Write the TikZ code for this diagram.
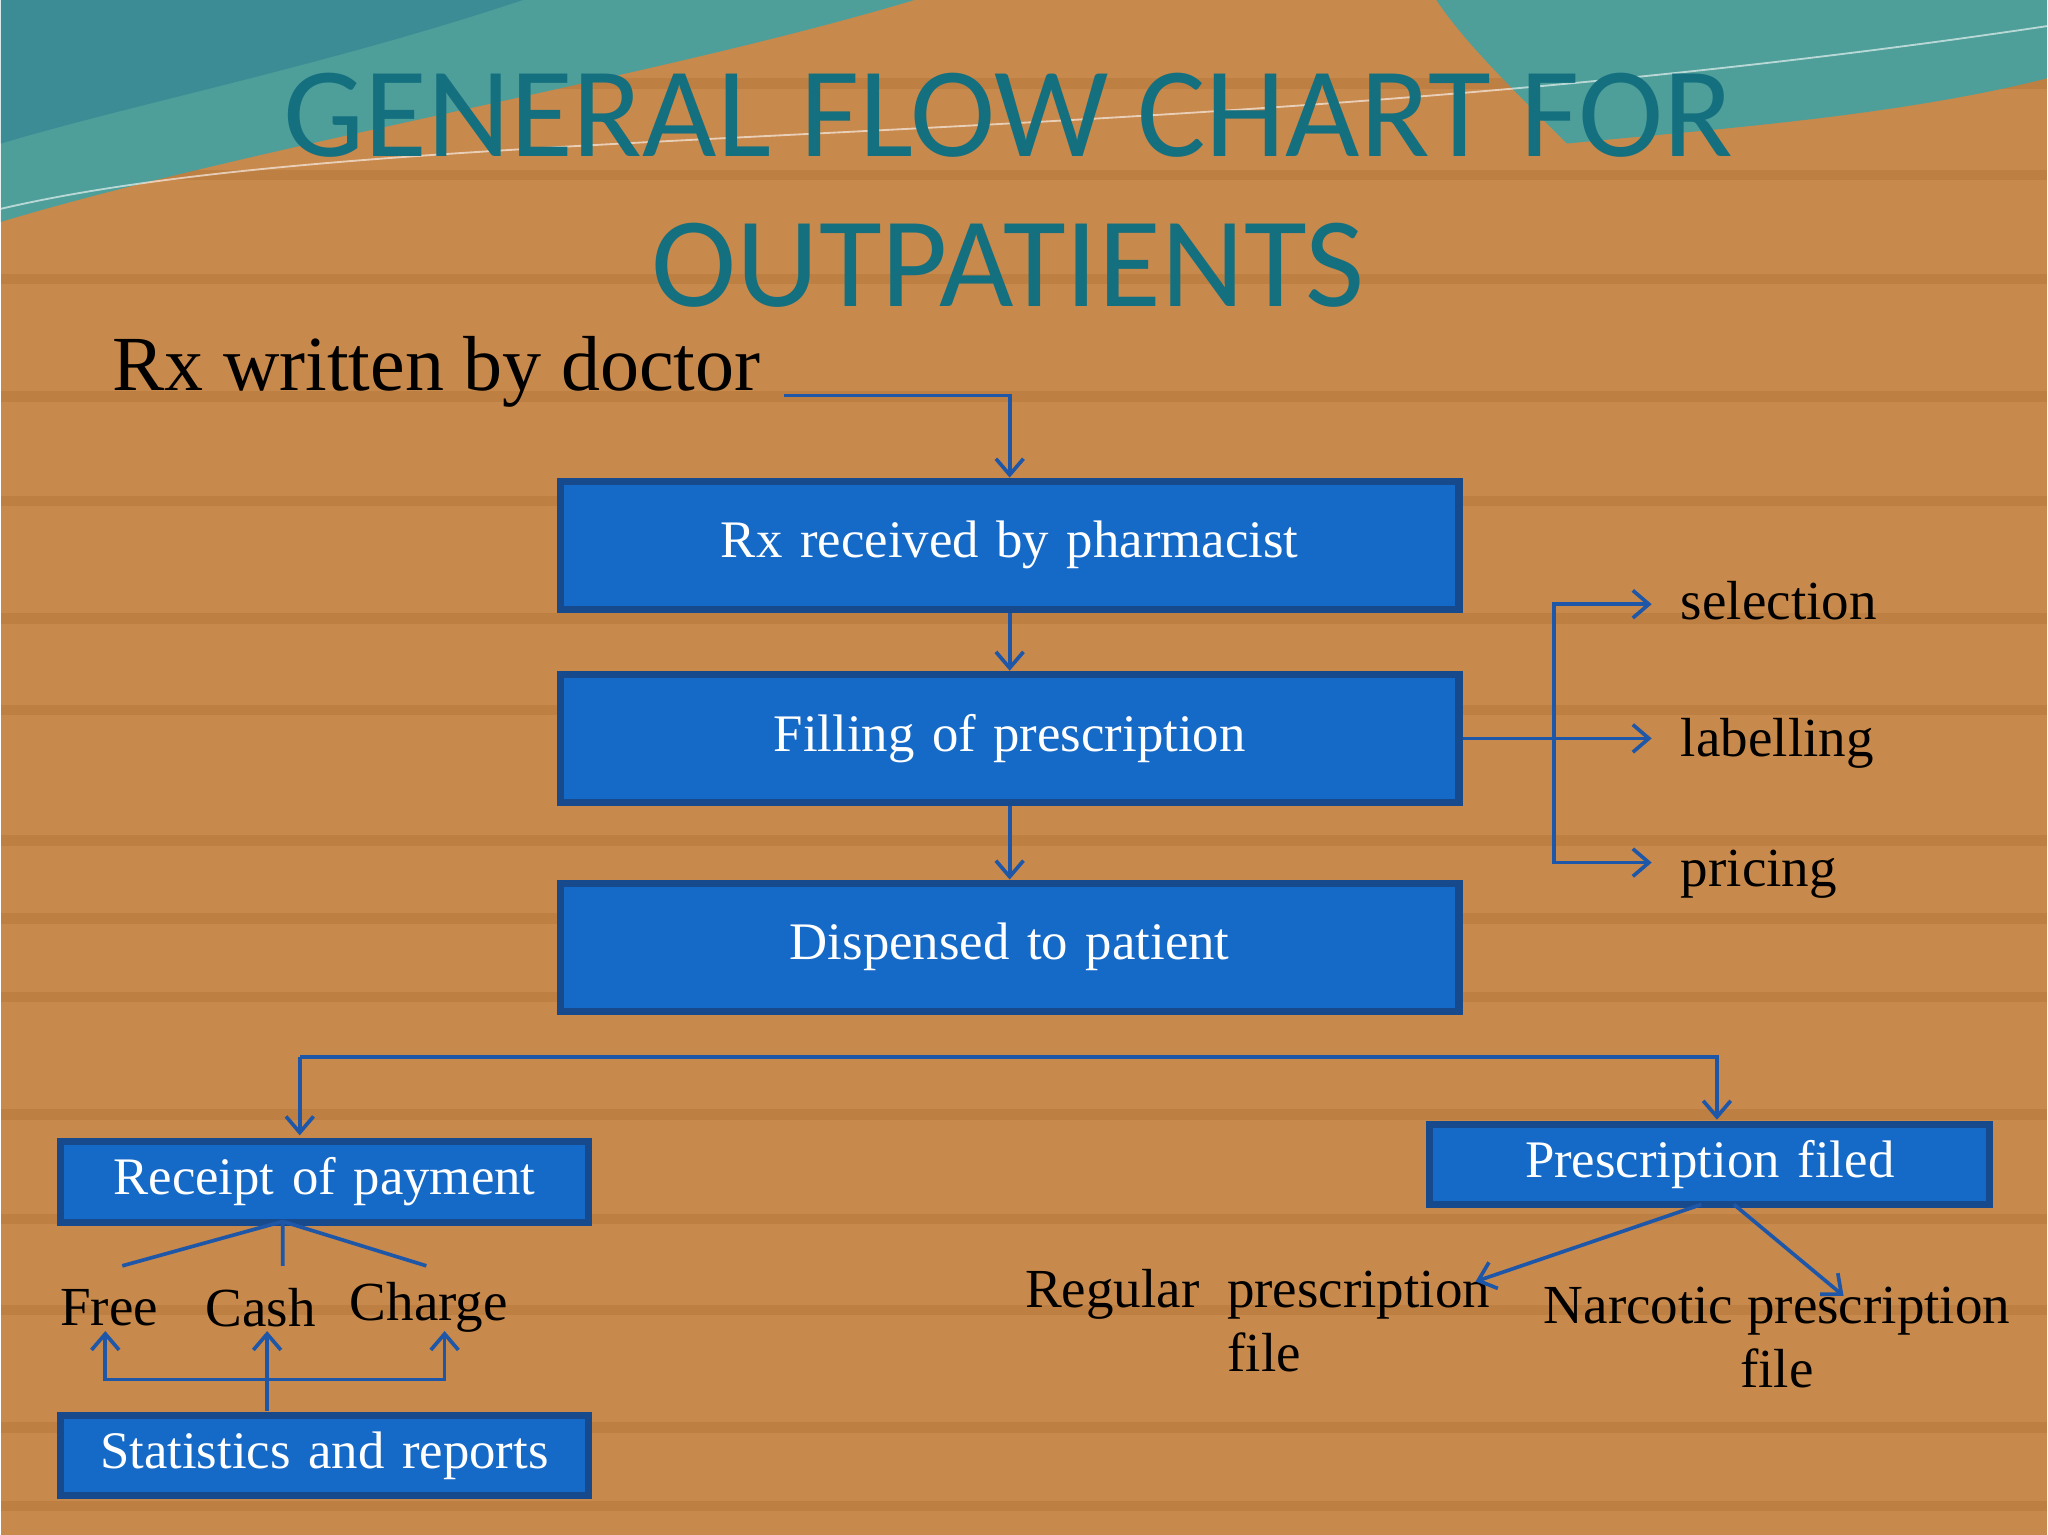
\documentclass[tikz,border=0pt]{standalone}
\usepackage{fontspec}
\setmainfont{Liberation Serif}
\newfontfamily\titlefont{Carlito}
\usetikzlibrary{arrows.meta}
\definecolor{wood}{HTML}{C8894C}
\definecolor{woodd}{HTML}{B5773C}
\definecolor{teal1}{HTML}{4E9E9A}
\definecolor{teal2}{HTML}{2F8090}
\definecolor{titlec}{HTML}{14707F}
\definecolor{boxf}{HTML}{1569C7}
\definecolor{boxd}{HTML}{174A8C}
\definecolor{linec}{HTML}{1F57A8}
\tikzset{
 bx/.style={draw=boxd,line width=1.6pt,fill=boxf,text=white,font=\fontsize{11.5}{14}\selectfont,anchor=north west,inner sep=0pt},
 ln/.style={draw=linec,line width=0.8pt},
 ar/.style={ln,-{Straight Barb[length=3.5pt,width=6pt]}},
 lbl/.style={font=\fontsize{12}{14}\selectfont,text=black}
}
\begin{document}
\begin{tikzpicture}[x=0.01cm,y=-0.01cm]
\fill[wood] (0,0) rectangle (1568,1176);
\foreach \y in {60,130,210,300,380,470,540,640,700,760,850,930,1000,1090,1150}{
 \fill[woodd,opacity=0.5] (0,\y) rectangle (1568,\y+8);}
\fill[teal1] (0,0) -- (700,0) .. controls (500,60) and (200,110) .. (0,170) -- cycle;
\fill[teal2,opacity=0.6] (0,0) -- (400,0) .. controls (250,50) and (100,80) .. (0,110) -- cycle;
\fill[teal1] (1100,0) -- (1568,0) -- (1568,60) .. controls (1450,90) and (1300,100) .. (1200,110) .. controls (1150,60) and (1120,30) .. (1100,0) -- cycle;
\draw[white,opacity=0.6] (0,160) .. controls (300,90) and (900,120) .. (1568,20);
\node[titlec,font=\titlefont\fontsize{28}{32}\selectfont] (t1) at (772,88) {GENERAL FLOW CHART FOR};
\node[titlec,font=\titlefont\fontsize{28}{32}\selectfont] (t2) at (772,203) {OUTPATIENTS};
\node[font=\fontsize{17}{20}\selectfont,anchor=west,inner sep=0pt] (rx) at (85,285) {Rx written by doctor};
\node[bx,text width=6.88cm,minimum height=0.98cm,align=center] (b1) at (426,366) {Rx received by pharmacist};
\node[bx,text width=6.88cm,minimum height=0.98cm,align=center] (b2) at (426,514) {Filling of prescription};
\node[bx,text width=6.88cm,minimum height=0.98cm,align=center] (b3) at (426,674) {Dispensed to patient};
\node[bx,text width=4.04cm,minimum height=0.62cm,align=center] (rp) at (43,872) {Receipt of payment};
\node[bx,text width=4.29cm,minimum height=0.61cm,align=center] (pf) at (1092,859) {Prescription filed};
\node[bx,text width=4.04cm,minimum height=0.61cm,align=center] (sr) at (43,1082) {Statistics and reports};
\node[lbl,anchor=west] (sel) at (1275,460) {selection};
\node[lbl,anchor=west] (lab) at (1275,570) {labelling};
\node[lbl,anchor=west] (pri) at (1275,670) {pricing};
\node[lbl] (free) at (83,1002) {Free};
\node[lbl] (cash) at (199,1002) {Cash};
\node[lbl] (chg) at (328,1002) {Charge};
\node[lbl,align=center] (reg) at (963,1012) {Regular\ \ prescription\\ \hspace*{0.1cm}file};
\node[lbl,align=center] (nar) at (1361,1025) {Narcotic prescription\\ file};
\coordinate (c1) at (b1.north |- 0,303);
\draw[ar] (600,303) -- (c1) -- (b1.north);
\draw[ar] (b1.south) -- (b2.north);
\draw[ar] (b2.south) -- (b3.north);
\coordinate (br) at (b2.east -| 1190,0);
\draw[ar] (b2.east) -- (b2.east -| 1265,0);
\draw[ar] (br) |- (1265,463);
\draw[ar] (br) |- (1265,661);
\coordinate (h1) at (229,810);
\coordinate (h2) at (1315,810);
\draw[ar] (h1) -- (229,870);
\draw[ar] (h1) -- (h2) -- (1315,858);
\draw[ln] (216,936) -- (93,970) (216,936) -- (216,970) (216,936) -- (326,970);
\draw[ar] (204,1081) -- (204,1020);
\draw[ar] (204,1057) -| (80,1020);
\draw[ar] (204,1057) -| (340,1020);
\draw[ar] (1303,923) -- (1130,982);
\draw[ar] (1328,923) -- (1412,993);
\end{tikzpicture}
\end{document}
